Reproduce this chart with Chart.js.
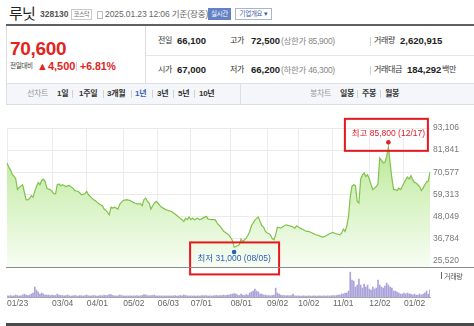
<!DOCTYPE html>
<html><head><meta charset="utf-8">
<script src="https://cdn.jsdelivr.net/npm/chart.js@4.4.1/dist/chart.umd.min.js"></script>
<style>
body{margin:0;width:474px;height:326px;overflow:hidden;background:#fff;position:relative;font-family:"Liberation Sans","Noto Sans CJK KR",sans-serif}
.a{position:absolute;white-space:nowrap;line-height:1}
.b{font-weight:bold}
.r{color:#e3241c}
.lb{font-size:8px;color:#333;letter-spacing:-0.4px}
.nm{font-size:9.5px;font-weight:bold;color:#222}
.gy{font-size:8.5px;color:#888;letter-spacing:-0.3px}
.box{position:absolute;box-sizing:border-box}
.tab{font-size:8px;font-weight:bold;color:#333;letter-spacing:-0.3px}
.sep{position:absolute;width:1px;background:#d0d0d0}
canvas{position:absolute;left:0}
</style></head>
<body>
<!-- header row -->
<div class="a" style="left:9px;top:5.5px;font-size:15px;color:#222;letter-spacing:-0.8px">루닛</div>
<div class="a b" style="left:40px;top:10px;font-size:8.5px;color:#555">328130</div>
<div class="box" style="left:71px;top:9px;width:21px;height:11px;border:1px solid #c8c8c8;font-size:6px;color:#666;text-align:center;line-height:9px;letter-spacing:-0.3px">코스닥</div>
<div class="box" style="left:97px;top:11px;width:6px;height:8px;border:1px solid #bbb"></div>
<div class="a" style="left:105px;top:10.2px;font-size:8.5px;color:#666;letter-spacing:-0.1px">2025.01.23 12:06 기준(장중)</div>
<div class="box" style="left:208px;top:8px;width:23px;height:12px;background:#6382c6;color:#fff;font-size:6.5px;text-align:center;line-height:12px;letter-spacing:-0.3px">실시간</div>
<div class="box" style="left:235px;top:8px;width:37px;height:12px;border:1px solid #aab4cf;color:#3f5aa6;font-size:6.5px;text-align:center;line-height:10px;letter-spacing:-0.3px">기업개요 ▾</div>
<div class="box" style="left:6px;top:24px;width:468px;height:2px;background:#606060"></div>

<!-- info area -->
<div class="box" style="left:6px;top:26px;width:1px;height:57px;background:#dcdcdc"></div>
<div class="a b r" style="left:10px;top:38.5px;font-size:19px;letter-spacing:-0.3px">70,600</div>
<div class="a" style="left:10px;top:62.7px;font-size:6.5px;color:#333;letter-spacing:-0.3px">전일대비</div>
<div class="a b r" style="left:37px;top:60.5px;font-size:11px">▲4,500</div>
<div class="sep" style="left:76px;top:62px;height:9px"></div>
<div class="a b r" style="left:80px;top:60.75px;font-size:10.5px">+6.81%</div>
<div class="box" style="left:145px;top:26px;width:1px;height:57px;background:#dcdcdc"></div>
<div class="box" style="left:146px;top:55px;width:328px;height:1px;background:#e6e6e6"></div>

<div class="a lb" style="left:158px;top:37px">전일</div>
<div class="a nm" style="left:177px;top:36.25px">66,100</div>
<div class="a lb" style="left:230px;top:37px">고가</div>
<div class="a nm r" style="left:251px;top:36.25px">72,500</div>
<div class="a gy" style="left:281px;top:36.75px">(상한가 85,900)</div>
<div class="sep" style="left:370px;top:37px;height:9px"></div>
<div class="a lb" style="left:374px;top:37px">거래량</div>
<div class="a nm" style="left:400px;top:36.25px">2,620,915</div>

<div class="a lb" style="left:158px;top:66px">시가</div>
<div class="a nm r" style="left:177px;top:65.25px">67,000</div>
<div class="a lb" style="left:230px;top:66px">저가</div>
<div class="a nm r" style="left:251px;top:65.25px">66,200</div>
<div class="a gy" style="left:281px;top:65.75px">(하한가 46,300)</div>
<div class="sep" style="left:370px;top:66px;height:9px"></div>
<div class="a lb" style="left:374px;top:66px">거래대금</div>
<div class="a nm" style="left:407px;top:65.25px">184,292</div>
<div class="a lb" style="left:442px;top:66px">백만</div>

<!-- tab bar -->
<div class="box" style="left:6px;top:83px;width:470px;height:22px;background:#f4f6f9;border:1px solid #dcdfe5"></div>
<div class="box" style="left:240px;top:83px;width:1px;height:22px;background:#dcdfe5"></div>
<div class="a" style="left:27px;top:90px;font-size:8px;color:#999;letter-spacing:-0.3px">선차트</div>
<div class="a tab" style="left:57px;top:90px">1일</div>
<div class="sep" style="left:72px;top:90px;height:8px"></div>
<div class="a tab" style="left:79px;top:90px">1주일</div>
<div class="sep" style="left:103px;top:90px;height:8px"></div>
<div class="a tab" style="left:107px;top:90px">3개월</div>
<div class="sep" style="left:131px;top:90px;height:8px"></div>
<div class="a tab" style="left:135px;top:90px;color:#3663c2">1년</div>
<div class="sep" style="left:152px;top:90px;height:8px"></div>
<div class="a tab" style="left:157px;top:90px">3년</div>
<div class="sep" style="left:173px;top:90px;height:8px"></div>
<div class="a tab" style="left:178px;top:90px">5년</div>
<div class="sep" style="left:194px;top:90px;height:8px"></div>
<div class="a tab" style="left:199px;top:90px">10년</div>
<div class="a" style="left:310px;top:90px;font-size:8px;color:#999;letter-spacing:-0.3px">봉차트</div>
<div class="a tab" style="left:340px;top:90px">일봉</div>
<div class="sep" style="left:357px;top:90px;height:8px"></div>
<div class="a tab" style="left:362px;top:90px">주봉</div>
<div class="sep" style="left:380px;top:90px;height:8px"></div>
<div class="a tab" style="left:385px;top:90px">월봉</div>

<canvas id="price" width="474" height="172" style="top:110px"></canvas>
<canvas id="vol" width="474" height="52" style="top:264px"></canvas>
<div class="box" style="left:6px;top:267px;width:468px;height:1px;background:#8c8c8c"></div>
<div class="box" style="left:441px;top:272px;width:1px;height:7px;background:#666"></div>
<div class="a" style="left:444px;top:272.5px;font-size:7px;color:#555;letter-spacing:-0.3px">거래량</div>
<div class="box" style="left:6px;top:323px;width:468px;height:3px;background:#4a4a4a"></div>

<script>
// daily closing prices (won), 2024-01-23 .. 2025-01-23 trading days
const closes = [
75300,73200,71800,69600,68600,67400,61800,62800,63500,64200,
60500,56600,56500,57200,58600,57900,60800,63300,65400,64200,
66400,67100,65800,62500,62000,61600,60800,59700,59600,64200,
64600,63700,64200,63800,63300,63600,63900,63000,62500,61300,
61000,60800,60000,59100,59400,59600,60800,59100,58300,57400,
56600,56000,55200,54500,54000,53500,51800,51100,50100,48900,
52800,52300,52800,52300,51800,54200,55200,56200,56400,56600,
56400,56200,55700,55200,54800,54500,54500,54500,53500,56600,
57400,55700,54900,51800,53500,54800,55700,54900,53800,52800,
52300,51800,51400,51100,50800,50600,49800,49300,48500,47700,
47000,46400,45500,47200,46400,47700,46400,47200,46400,46800,
47200,46400,46700,47200,47700,48100,46700,46500,46400,46400,
46400,45000,43800,43000,41700,40500,39900,39300,38500,37300,
35800,32500,32700,33100,33600,36500,35300,36200,37000,38500,
40400,43300,44800,46200,47200,47700,45500,43300,42600,40500,
39600,39400,38500,36800,36200,38800,42600,42400,42100,42800,
43300,43800,43500,43300,43000,42700,42100,43300,42700,42100,
41700,41300,40800,40400,40400,40000,39600,39200,38700,38500,
38200,37900,37500,37800,38200,38700,39200,39600,39900,39500,
39200,39000,38700,39500,41600,40400,43000,48000,58000,63500,
64200,63700,55700,54900,67000,69300,70200,68400,69300,67100,
64200,61700,62500,63300,64700,77800,76600,75300,75600,78600,
83400,75300,67600,61700,61700,61300,62500,61700,63300,65100,
66800,68100,67100,68800,66800,65400,65100,64200,63300,61300,
62500,64200,65600,66100,70600
];
// daily volume (thousand shares)
const volumes = [
420,350,525,350,420,700,525,350,420,700,
1050,700,525,700,1050,1400,3500,2450,1750,1050,
1400,1050,700,700,700,525,700,525,525,1050,
700,525,525,420,525,700,420,350,420,525,
420,350,525,420,350,525,700,420,350,420,
525,420,350,420,525,420,700,525,525,875,
875,525,420,350,420,700,525,420,350,420,
350,420,350,420,350,525,350,420,525,875,
700,525,420,525,525,700,420,350,420,350,
420,350,420,350,420,350,420,525,350,420,
525,420,700,525,420,350,420,350,420,350,
420,350,420,525,420,525,350,420,350,420,
525,525,420,525,525,700,525,700,700,875,
1050,1225,1050,700,525,1050,700,525,875,700,
1400,1750,2100,2800,2100,1750,1050,1050,700,700,
525,525,420,525,700,3150,1400,1050,700,525,
525,420,525,420,525,1050,420,350,420,350,
350,420,350,350,420,350,350,420,350,350,
420,350,350,420,350,420,350,420,525,420,
525,700,700,1050,1050,1400,1400,2100,8750,5950,
5600,3500,4200,6300,4200,3150,4550,3500,4200,2800,
2450,3500,2800,3150,5950,4200,3500,3150,3850,4900,
4200,3500,3150,2100,2100,1750,1400,1050,1050,1400,
1050,1400,1050,1050,700,1050,700,700,1050,700,
1050,1400,2100,1050,2621
];
const tickLabels = ['01/23','03/04','04/01','05/02','06/03','07/01','08/01','09/02','10/02','11/01','12/02','01/02'];
const tickIndex  = [0,26,46,67,87,106,129,150,168,188,209,229];
const yTicks = [25520,36784,48049,59313,70577,81841,93106];
const markNames  = ['최고','최저'];
const markValues = [85800,31000];
const markDates  = ['12/17','08/05'];
const markIndex  = [220,131];

const days = closes.map((_, i) => i);
const fmt = v => Number(v).toLocaleString('en-US');
Chart.defaults.font.family = '"Liberation Sans","Noto Sans CJK KR",sans-serif';

const marks = {
  id: 'marks',
  afterDraw(chart) {
    const {ctx, scales: {x, y}} = chart;
    ctx.save();
    ctx.font = '8.5px "Liberation Sans","Noto Sans CJK KR",sans-serif';
    ctx.textAlign = 'center';
    ctx.textBaseline = 'middle';
    // high
    let px = x.getPixelForValue(markIndex[0]);
    let py = y.getPixelForValue(markValues[0]);
    ctx.fillStyle = '#e0202a';
    ctx.beginPath(); ctx.arc(px, py, 2.3, 0, Math.PI * 2); ctx.fill();
    ctx.fillText(markNames[0] + ' ' + fmt(markValues[0]) + ' (' + markDates[0] + ')', px, py - 8.5);
    ctx.strokeStyle = '#e8161d'; ctx.lineWidth = 2;
    ctx.strokeRect(px - 43.5, py - 23.5, 83, 32);
    // low
    px = x.getPixelForValue(markIndex[1]);
    py = y.getPixelForValue(markValues[1]) + 2;
    ctx.fillStyle = '#2a5fb8';
    ctx.beginPath(); ctx.arc(px, py, 2.3, 0, Math.PI * 2); ctx.fill();
    ctx.fillText(markNames[1] + ' ' + fmt(markValues[1]) + ' (' + markDates[1] + ')', px, py + 7);
    ctx.strokeRect(px - 44, py - 9.5, 89, 32);
    ctx.restore();
  }
};

new Chart(document.getElementById('price'), {
  type: 'line',
  data: { labels: days, datasets: [{
    data: closes, borderColor: '#80c24a', borderWidth: 1.2, pointRadius: 0, tension: 0, fill: 'start',
    backgroundColor: (c) => {
      const a = c.chart.chartArea; if (!a) return 'rgba(0,0,0,0)';
      const g = c.chart.ctx.createLinearGradient(0, a.top, 0, a.bottom);
      g.addColorStop(0, '#b2e489'); g.addColorStop(0.5, '#d6f2c1'); g.addColorStop(1, '#f8fdf4');
      return g;
    }
  }]},
  options: {
    responsive: false, animation: false, events: [],
    layout: { padding: { left: 7, top: 18, right: 0, bottom: 14 } },
    plugins: { legend: { display: false }, tooltip: { enabled: false } },
    scales: {
      x: { type: 'category', offset: false,
        ticks: { display: false, autoSkip: false },
        grid: { color: c => tickIndex.includes(c.index) ? '#ebebeb' : 'rgba(0,0,0,0)', drawTicks: false },
        border: { display: false },
        afterFit: s => { s.height = 0; } },
      y: { position: 'right', min: 21793, max: 93106,
        afterBuildTicks: s => { s.ticks = yTicks.map(v => ({ value: v })); },
        ticks: { padding: 3, color: '#777', font: { size: 8.5 }, callback: v => fmt(v) },
        grid: { color: '#ebebeb', drawTicks: false },
        border: { display: false },
        afterFit: s => { s.width = 44; } }
    }
  },
  plugins: [marks]
});

new Chart(document.getElementById('vol'), {
  type: 'bar',
  data: { labels: days, datasets: [{ data: volumes, backgroundColor: '#aaa2dc', barThickness: 1 }] },
  options: {
    responsive: false, animation: false, events: [],
    layout: { padding: { left: 7, top: 6, right: 0, bottom: 0 } },
    plugins: { legend: { display: false }, tooltip: { enabled: false } },
    scales: {
      x: { offset: false,
        grid: { display: false, drawTicks: false },
        border: { display: true, color: '#a8a8a8' },
        ticks: { autoSkip: false, maxRotation: 0, minRotation: 0, align: 'start', padding: 2, color: '#666', font: { size: 8.5 },
          callback: (v, i) => { const k = tickIndex.indexOf(i); return k < 0 ? '' : tickLabels[k]; } },
        afterFit: s => { s.height = 19; } },
      y: { position: 'right', min: 0, max: 9500,
        ticks: { display: false }, grid: { display: false, drawTicks: false }, border: { display: false },
        afterFit: s => { s.width = 44; } }
    }
  }
});
</script>
</body></html>
